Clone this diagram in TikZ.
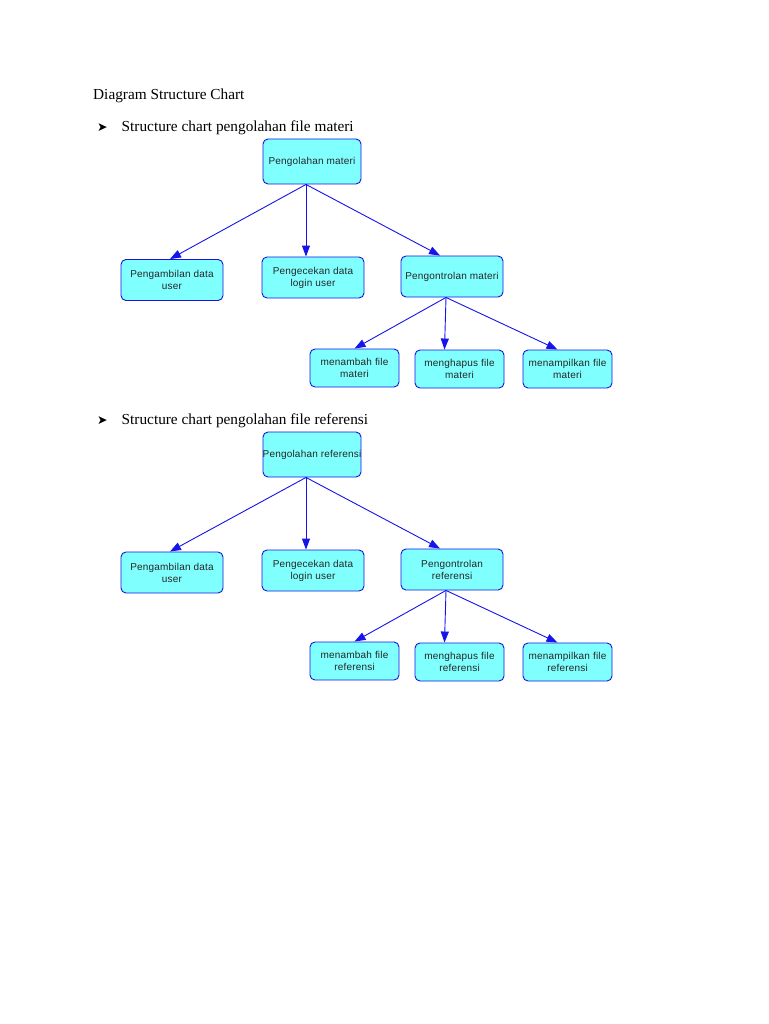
\documentclass[tikz,border=0pt]{standalone}
\usepackage{fontspec}
\setmainfont{Liberation Serif}
\newfontfamily\boxfont[LetterSpace=2]{Liberation Sans}
\newfontfamily\symfont{DejaVu Sans}
\usetikzlibrary{arrows.meta}
\definecolor{boxfill}{RGB}{128,255,255}
\definecolor{boxline}{RGB}{20,20,230}
\definecolor{arrowblue}{RGB}{20,20,235}
\begin{document}
\begin{tikzpicture}[x=1pt,y=-1pt,
  chartbox/.style={draw=boxline,fill=boxfill,rounded corners=5pt,line width=0.9pt,
    minimum width=#1,align=center,inner sep=1pt,
    font=\boxfont\fontsize{10}{12}\selectfont,text=black!85},
  chartbox/.default=102pt,
  bigbox/.style={chartbox=98pt,minimum height=45pt},
  midbox/.style={chartbox=102pt,minimum height=41pt},
  smallbox/.style={chartbox=89pt,minimum height=38pt},
  link/.style={draw=arrowblue,line width=0.9pt,-{Triangle[length=11pt,width=8pt]}},
  heading/.style={anchor=base west,inner sep=0pt,font=\fontsize{15.3}{18}\selectfont},
  bullet/.style={anchor=base west,inner sep=0pt,font=\symfont\fontsize{12.5}{14}\selectfont}
]
\useasboundingbox (0,0) rectangle (768,1024);

\node[heading] (title) at (93,100) {Diagram Structure Chart};

% ---------- section 1 ----------
\node[bullet] (b1) at (97,131.5) {➤};
\node[heading] (h1) at (121.5,131.5) {Structure chart pengolahan file materi};

\node[bigbox] (p1) at (312,161.5) {Pengolahan materi};
\node[midbox] (a1) at (172,280) {Pengambilan data\\user};
\node[midbox] (c1) at (313,277.5) {Pengecekan data\\login user};
\node[midbox] (k1) at (452,276.5) {Pengontrolan materi};
\node[smallbox] (m1) at (354.5,368) {menambah file\\materi};
\node[smallbox] (d1) at (459.5,369) {menghapus file\\materi};
\node[smallbox] (s1) at (567.5,369) {menampilkan file\\materi};

\draw[link] ([xshift=-6pt]p1.south) -- ([xshift=-2pt]a1.north);
\draw[link] ([xshift=-6pt]p1.south) -- ([xshift=-7pt]c1.north);
\draw[link] ([xshift=-6pt]p1.south) -- ([xshift=-12pt]k1.north);
\draw[link] ([xshift=-6pt]k1.south) -- ([xshift=0pt]m1.north);
\draw[link] ([xshift=-6pt]k1.south) -- ([xshift=-15pt]d1.north);
\draw[link] ([xshift=-6pt]k1.south) -- ([xshift=-10pt]s1.north);

% ---------- section 2 ----------
\node[bullet] (b2) at (97,424) {➤};
\node[heading] (h2) at (121.5,424) {Structure chart pengolahan file referensi};

\node[bigbox] (p2) at (312,454.5) {\makebox[94pt]{Pengolahan referensi}};
\node[midbox] (a2) at (172,572.5) {Pengambilan data\\user};
\node[midbox] (c2) at (313,570.5) {Pengecekan data\\login user};
\node[midbox] (k2) at (452,569.5) {Pengontrolan\\referensi};
\node[smallbox] (m2) at (354.5,661) {menambah file\\referensi};
\node[smallbox] (d2) at (459.5,662) {menghapus file\\referensi};
\node[smallbox] (s2) at (567.5,662) {menampilkan file\\referensi};

\draw[link] ([xshift=-6pt]p2.south) -- ([xshift=-2pt]a2.north);
\draw[link] ([xshift=-6pt]p2.south) -- ([xshift=-7pt]c2.north);
\draw[link] ([xshift=-6pt]p2.south) -- ([xshift=-12pt]k2.north);
\draw[link] ([xshift=-6pt]k2.south) -- ([xshift=0pt]m2.north);
\draw[link] ([xshift=-6pt]k2.south) -- ([xshift=-15pt]d2.north);
\draw[link] ([xshift=-6pt]k2.south) -- ([xshift=-10pt]s2.north);
\end{tikzpicture}
\end{document}
